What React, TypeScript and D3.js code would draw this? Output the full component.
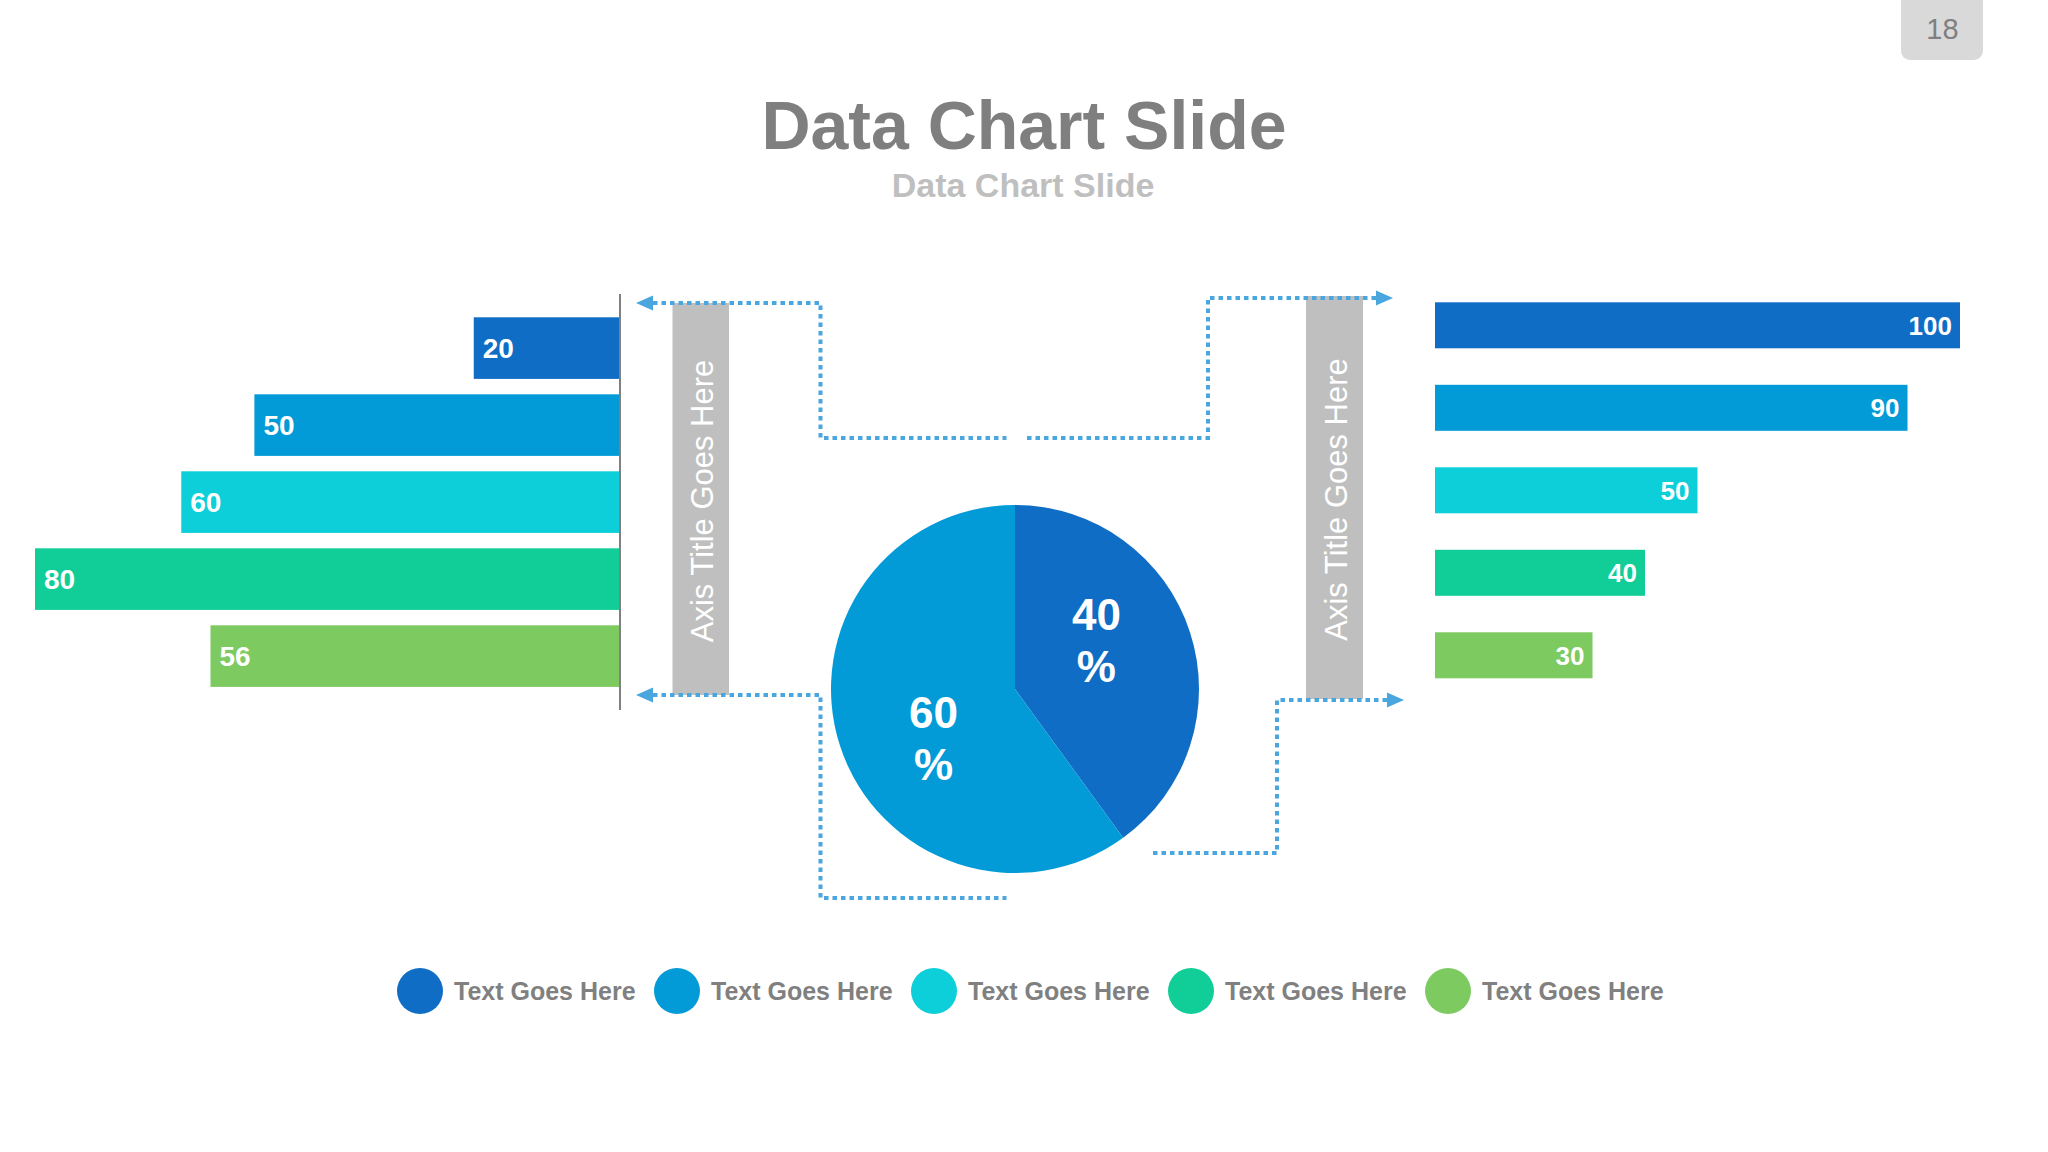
import React from 'react';
import * as d3 from 'd3';

// ---- data ----
const LEFT_CATEGORIES = ['A', 'B', 'C', 'D', 'E'];
const LEFT_VALUES = [20, 50, 60, 80, 56];
const RIGHT_CATEGORIES = ['A', 'B', 'C', 'D', 'E'];
const RIGHT_VALUES = [100, 90, 50, 40, 30];
const PIE_VALUES = [40, 60];
const PIE_LABELS = ['40', '60'];
const LEGEND_LABELS = ['Text Goes Here', 'Text Goes Here', 'Text Goes Here', 'Text Goes Here', 'Text Goes Here'];

const COLORS = ['#0f6dc5', '#029bd8', '#0ccfd9', '#11cd97', '#7dca61'];
const FONT = '"Liberation Sans", Arial, sans-serif';
const DOT_BLUE = '#4aa6de';

const W = 2048;
const H = 1152;

// ---- scales ----
const leftX = d3.scaleLinear().domain([0, 80]).range([620, 35]);
const leftY = d3.scaleBand<string>().domain(LEFT_CATEGORIES).range([309.6, 694.6]).paddingInner(0.2).paddingOuter(0.1);

const rightX = d3.scaleLinear().domain([0, 100]).range([1435, 1960]);
const rightY = d3.scaleBand<string>().domain(RIGHT_CATEGORIES).range([302.3, 678.3]).paddingInner(0.4424).paddingOuter(0);

const PIE = { cx: 1015, cy: 689, r: 184 };
const pieGen = d3.pie<number>().sort(null).value((d) => d);
const arcGen = d3.arc<d3.PieArcDatum<number>>().innerRadius(0).outerRadius(PIE.r);
// labels sit a little counter-clockwise of the slice middle
const LABEL_R = 95;
const LABEL_SHIFT = (-13 * Math.PI) / 180;

const legendX = d3.scalePoint<number>().domain(d3.range(LEGEND_LABELS.length)).range([420, 1448]);

const line = d3.line<[number, number]>();

// connector geometry (layout, relative to pie and axis-title boxes)
const LEFT_TITLE = { x: 672.5, w: 56.5, y0: 303, y1: 695 };
const RIGHT_TITLE = { x: 1306, w: 57, y0: 296, y1: 699 };
const ARROW_L = 17;
const ARROW_H = 7.5;

const connectors: { pts: [number, number][]; dir: 'left' | 'right' }[] = [
  { pts: [[636, LEFT_TITLE.y0], [820.5, LEFT_TITLE.y0], [820.5, 438], [1006.5, 438]], dir: 'left' },
  { pts: [[636, LEFT_TITLE.y1], [820.5, LEFT_TITLE.y1], [820.5, 898], [1006.5, 898]], dir: 'left' },
  { pts: [[1393, 298], [1208, 298], [1208, 438], [1025, 438]], dir: 'right' },
  { pts: [[1404, 700], [1277, 700], [1277, 853], [1149, 853]], dir: 'right' },
];

const arrowPath = (tip: [number, number], dir: 'left' | 'right') => {
  const s = dir === 'left' ? 1 : -1;
  const [x, y] = tip;
  return `M${x},${y}L${x + s * ARROW_L},${y - ARROW_H}L${x + s * ARROW_L},${y + ARROW_H}Z`;
};

const AxisTitle = ({ box }: { box: { x: number; w: number; y0: number; y1: number } }) => {
  const cx = box.x + box.w / 2;
  const cy = (box.y0 + box.y1) / 2 + 2;
  return (
    <g>
      <rect x={box.x} y={box.y0} width={box.w} height={box.y1 - box.y0} fill="#bfbfbf" />
      <text
        transform={`translate(${cx + 12}, ${cy}) rotate(-90)`}
        textAnchor="middle"
        fontFamily={FONT}
        fontSize={31}
        fill="#ffffff"
      >
        Axis Title Goes Here
      </text>
    </g>
  );
};

export default function App() {
  const arcs = pieGen(PIE_VALUES);

  return (
    <svg width={W} height={H} style={{ position: 'absolute', left: 0, top: 0, background: '#fff' }}>
      {/* page badge */}
      <rect x={1901} y={-12} width={82} height={72} rx={9} fill="#d9d9d9" />
      <text x={1942.5} y={39} textAnchor="middle" fontFamily={FONT} fontSize={29} fill="#808080">18</text>

      {/* titles */}
      <text x={1024} y={149} textAnchor="middle" fontFamily={FONT} fontWeight="bold" fontSize={68} fill="#7f7f7f">
        Data Chart Slide
      </text>
      <text x={1023} y={197} textAnchor="middle" fontFamily={FONT} fontWeight="bold" fontSize={34} fill="#bfbfbf">
        Data Chart Slide
      </text>

      {/* left bars */}
      <g>
        {LEFT_VALUES.map((v, i) => {
          const y = leftY(LEFT_CATEGORIES[i])!;
          const x = leftX(v);
          return (
            <g key={i}>
              <rect x={x} y={y} width={leftX(0) - x} height={leftY.bandwidth()} fill={COLORS[i]} />
              <text
                x={x + 9}
                y={y + leftY.bandwidth() / 2}
                dy="0.36em"
                fontFamily={FONT}
                fontWeight="bold"
                fontSize={28}
                fill="#fff"
              >
                {v}
              </text>
            </g>
          );
        })}
        <line x1={leftX(0)} x2={leftX(0)} y1={294} y2={710} stroke="#808080" strokeWidth={2} />
      </g>

      {/* right bars */}
      <g>
        {RIGHT_VALUES.map((v, i) => {
          const y = rightY(RIGHT_CATEGORIES[i])!;
          const x0 = rightX(0);
          const x1 = rightX(v);
          return (
            <g key={i}>
              <rect x={x0} y={y} width={x1 - x0} height={rightY.bandwidth()} fill={COLORS[i]} />
              <text
                x={x1 - 8}
                y={y + rightY.bandwidth() / 2}
                dy="0.36em"
                textAnchor="end"
                fontFamily={FONT}
                fontWeight="bold"
                fontSize={26}
                fill="#fff"
              >
                {v}
              </text>
            </g>
          );
        })}
      </g>

      {/* axis titles */}
      <AxisTitle box={LEFT_TITLE} />
      <AxisTitle box={RIGHT_TITLE} />

      {/* dotted connectors */}
      {connectors.map((c, i) => {
        const [tip, ...rest] = c.pts;
        const s = c.dir === 'left' ? 1 : -1;
        const start: [number, number] = [tip[0] + s * ARROW_L, tip[1]];
        return (
          <g key={i}>
            <path
              d={line([start, ...rest]) || ''}
              fill="none"
              stroke={DOT_BLUE}
              strokeWidth={4}
              strokeDasharray="4.5 4"
            />
            <path d={arrowPath(tip, c.dir)} fill={DOT_BLUE} />
          </g>
        );
      })}

      {/* pie */}
      <g transform={`translate(${PIE.cx}, ${PIE.cy})`}>
        {arcs.map((a, i) => (
          <path key={i} d={arcGen(a) || ''} fill={COLORS[i]} />
        ))}
        {arcs.map((a, i) => {
          const ang = (a.startAngle + a.endAngle) / 2 + LABEL_SHIFT;
          const lx = LABEL_R * Math.sin(ang);
          const ly = -LABEL_R * Math.cos(ang);
          return (
            <text
              key={`l${i}`}
              textAnchor="middle"
              fontFamily={FONT}
              fontWeight="bold"
              fontSize={44}
              fill="#fff"
            >
              <tspan x={lx} y={ly - 10}>{PIE_LABELS[i]}</tspan>
              <tspan x={lx} y={ly + 42}>%</tspan>
            </text>
          );
        })}
      </g>

      {/* legend */}
      <g>
        {LEGEND_LABELS.map((t, i) => {
          const cx = legendX(i)!;
          return (
            <g key={i}>
              <circle cx={cx} cy={991} r={23} fill={COLORS[i]} />
              <text
                x={cx + 34}
                y={991}
                dy="0.35em"
                fontFamily={FONT}
                fontWeight="bold"
                fontSize={25}
                fill="#808080"
              >
                {t}
              </text>
            </g>
          );
        })}
      </g>
    </svg>
  );
}
